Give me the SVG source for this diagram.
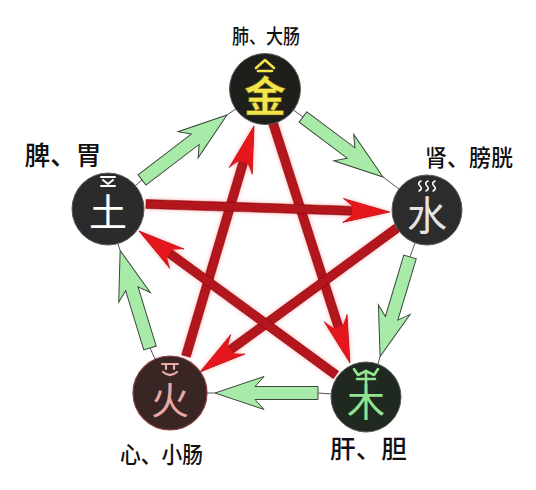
<svg xmlns="http://www.w3.org/2000/svg" width="536" height="490" viewBox="0 0 536 490">
  <defs>
    <filter id="glow" x="-10%" y="-50%" width="120%" height="200%">
      <feGaussianBlur in="SourceAlpha" stdDeviation="2.2" result="b"/>
      <feFlood flood-color="#ff7070" flood-opacity="0.55"/>
      <feComposite in2="b" operator="in" result="g"/>
      <feMerge><feMergeNode in="g"/><feMergeNode in="SourceGraphic"/></feMerge>
    </filter>
  </defs>
  <style>
    .thin { stroke: #555; stroke-width: 1; fill: none; }
    .garrow { fill: #a8eaa8; stroke: #3c463c; stroke-width: 1; stroke-linejoin: miter; }
    .rshaft { fill: #b3121a; stroke: #8a0c10; stroke-width: 0.6; }
    .rhead { fill: #e5121a; }
    .node { stroke: #5a5a5a; stroke-width: 1; }
    .lbl { font-family: "Noto Sans CJK SC", "Noto Sans CJK TC", sans-serif; fill: #111; text-anchor: middle; font-weight: 500; }
    .glyph { font-family: "Noto Sans CJK SC", "Noto Sans CJK TC", sans-serif; text-anchor: middle; }
    .ico { fill: none; stroke-linecap: round; stroke-linejoin: round; }
  </style>
  <rect width="536" height="490" fill="#ffffff"/>

  <g id="connectors">
    <g id="thin-lines">
      <line class="thin" x1="135" y1="186" x2="142" y2="180"/>
      <line class="thin" x1="227" y1="115" x2="237" y2="108"/>
      <line class="thin" x1="292" y1="109" x2="303" y2="117"/>
      <line class="thin" x1="383" y1="177" x2="399" y2="189"/>
      <line class="thin" x1="415" y1="243" x2="410" y2="257"/>
      <line class="thin" x1="380" y1="357" x2="378" y2="364"/>
      <line class="thin" x1="318" y1="393" x2="332" y2="394"/>
      <line class="thin" x1="215" y1="393" x2="206" y2="393"/>
      <line class="thin" x1="155" y1="359" x2="150" y2="348"/>
      <line class="thin" x1="120" y1="250" x2="118" y2="244"/>
    </g>

    <g id="red-arrows" filter="url(#glow)">
      <g id="r-jin-mu" transform="translate(273,123) rotate(72.21)">
        <path class="rshaft" d="M0,-4.5 H218 L205,-12 L252,0 L205,12 L218,4.5 H0 Z"/>
        <path class="rhead" d="M214,-4.5 L205,-12 L252,0 L205,12 L214,4.5 Z"/>
      </g>
      <g id="r-huo-jin" transform="translate(186,356) rotate(-73.53)">
        <path class="rshaft" d="M0,-4.5 H206 L193,-12 L240,0 L193,12 L206,4.5 H0 Z"/>
        <path class="rhead" d="M202,-4.5 L193,-12 L240,0 L193,12 L202,4.5 Z"/>
      </g>
      <g id="r-shui-huo" transform="translate(397,228) rotate(143.83)">
        <path class="rshaft" d="M0,-4.5 H210 L197,-12 L244,0 L197,12 L210,4.5 H0 Z"/>
        <path class="rhead" d="M206,-4.5 L197,-12 L244,0 L197,12 L206,4.5 Z"/>
      </g>
      <g id="r-mu-tu" transform="translate(336,375) rotate(216.17)">
        <path class="rshaft" d="M0,-4.5 H210 L197,-12 L244,0 L197,12 L210,4.5 H0 Z"/>
        <path class="rhead" d="M206,-4.5 L197,-12 L244,0 L197,12 L206,4.5 Z"/>
      </g>
      <g id="r-tu-shui" transform="translate(146,204) rotate(1.88)">
        <path class="rshaft" d="M0,-4.5 H210 L197,-12 L244,0 L197,12 L210,4.5 H0 Z"/>
        <path class="rhead" d="M206,-4.5 L197,-12 L244,0 L197,12 L206,4.5 Z"/>
      </g>
    </g>

    <g id="green-arrows">
      <path id="g-tu-jin" class="garrow" transform="translate(142,180) rotate(-37.41)" d="M0,-6.5 H67 L58,-16.5 L107,0 L58,16.5 L67,6.5 H0 Z"/>
      <path id="g-jin-shui" class="garrow" transform="translate(303,117) rotate(36.87)" d="M0,-6.5 H60 L51,-16.5 L100,0 L51,16.5 L60,6.5 H0 Z"/>
      <path id="g-shui-mu" class="garrow" transform="translate(410,257) rotate(106.7)" d="M0,-6.5 H64 L55,-16.5 L104,0 L55,16.5 L64,6.5 H0 Z"/>
      <path id="g-mu-huo" class="garrow" transform="translate(318,393) rotate(180)" d="M0,-6.5 H63 L54,-16.5 L103,0 L54,16.5 L63,6.5 H0 Z"/>
      <path id="g-huo-tu" class="garrow" transform="translate(150,348) rotate(-107.02)" d="M0,-6.5 H62 L53,-16.5 L102,0 L53,16.5 L62,6.5 H0 Z"/>
    </g>
  </g>

  <g id="node-jin">
    <circle class="node" cx="265" cy="89" r="35.5" fill="#1e1e1a"/>
    <g class="ico" stroke="#f2e64a" stroke-width="2.6">
      <path d="M256,68 L265,60 L274,68"/>
      <line x1="258" y1="71" x2="272" y2="71"/>
    </g>
    <text class="glyph" x="265" y="112" font-size="42" font-weight="bold" fill="#f2e64a" stroke="#6e6210" stroke-width="0.6">金</text>
    <text class="lbl" x="266" y="44" font-size="20" textLength="68" lengthAdjust="spacingAndGlyphs">肺、大肠</text>
  </g>

  <g id="node-tu">
    <circle class="node" cx="108" cy="209" r="36" fill="#2b2b2b"/>
    <g class="ico" stroke="#ffffff" stroke-width="2">
      <line x1="101" y1="177" x2="115" y2="177"/>
      <path d="M103,180 L108,184 L113,180"/>
      <line x1="101" y1="186" x2="115" y2="186"/>
    </g>
    <text class="glyph" x="108" y="226" font-size="38" fill="#ffffff">土</text>
    <text class="lbl" x="63" y="165" font-size="26" textLength="77" lengthAdjust="spacingAndGlyphs">脾、胃</text>
  </g>

  <g id="node-shui">
    <circle class="node" cx="427" cy="210" r="35" fill="#2c2c2c"/>
    <g class="ico" stroke="#ffffff" stroke-width="1.6">
      <path d="M421,181 Q417,183 420,186 Q423,189 419,191"/>
      <path d="M428,181 Q424,183 427,186 Q430,189 426,191"/>
      <path d="M435,181 Q431,183 434,186 Q437,189 433,191"/>
    </g>
    <text class="glyph" x="427" y="230" font-size="40" fill="#e4e4e4">水</text>
    <text class="lbl" x="469" y="166" font-size="23" textLength="88" lengthAdjust="spacingAndGlyphs">肾、膀胱</text>
  </g>

  <g id="node-huo">
    <circle cx="170" cy="393" r="37" fill="#3a2525" stroke="#8a4040" stroke-width="1.2"/>
    <g class="ico" stroke="#e9a9a6" stroke-width="2.2">
      <line x1="162" y1="364" x2="178" y2="364"/>
      <line x1="166" y1="364" x2="166" y2="369"/>
      <line x1="174" y1="364" x2="174" y2="369"/>
      <path d="M163,372 Q170,378 177,372"/>
    </g>
    <text class="glyph" x="170" y="414" font-size="38" fill="#e9a9a6">火</text>
    <text class="lbl" x="161.5" y="463" font-size="23" textLength="83" lengthAdjust="spacingAndGlyphs">心、小肠</text>
  </g>

  <g id="node-mu">
    <circle class="node" cx="366" cy="397" r="35" fill="#1f2920"/>
    <g class="ico" stroke="#92e492" stroke-width="2.6">
      <path d="M354,369 L358,375 L366,371 L374,375 L378,369"/>
      <line x1="357" y1="379" x2="375" y2="379"/>
      <line x1="366" y1="371" x2="366" y2="384"/>
    </g>
    <text class="glyph" x="366" y="416" font-size="38" fill="#92e492">木</text>
    <text class="lbl" x="368.5" y="458" font-size="25" textLength="77" lengthAdjust="spacingAndGlyphs">肝、胆</text>
  </g>
</svg>
